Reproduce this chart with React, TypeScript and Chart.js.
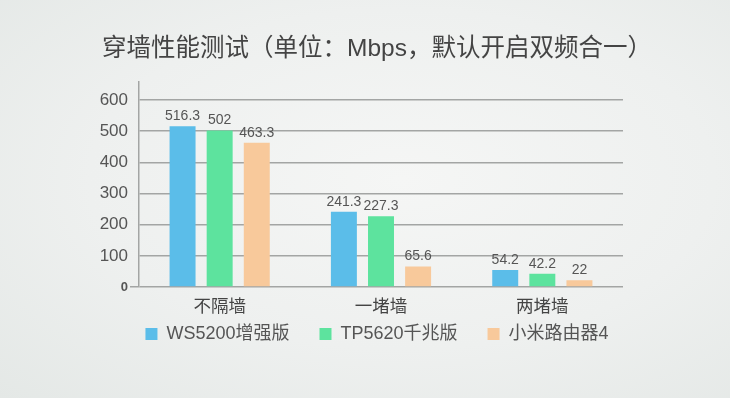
import React, { useEffect, useRef } from "react";
import { Chart, registerables } from "chart.js";

Chart.register(...registerables);

const categories = ["不隔墙", "一堵墙", "两堵墙"];
const seriesNames = ["WS5200增强版", "TP5620千兆版", "小米路由器4"];
const ws5200 = [516.3, 241.3, 54.2];
const tp5620 = [502, 227.3, 42.2];
const xiaomi4 = [463.3, 65.6, 22];
const seriesColors = ["#5bbde9", "#5de39e", "#f8c99b"];
const yMaxTick = 600;

const FONT = "'Liberation Sans', 'Noto Sans CJK SC', sans-serif";

const valueLabels = {
  id: "valueLabels",
  afterDatasetsDraw(chart: any) {
    const ctx = chart.ctx;
    ctx.save();
    ctx.font = `14px ${FONT}`;
    ctx.fillStyle = "#555";
    ctx.textAlign = "center";
    ctx.textBaseline = "bottom";
    chart.data.datasets.forEach((ds: any, i: number) => {
      const meta = chart.getDatasetMeta(i);
      meta.data.forEach((bar: any, j: number) => {
        ctx.fillText(String(ds.data[j]), bar.x, bar.y - 3);
      });
    });
    ctx.restore();
  },
};

export default function App() {
  const ref = useRef<HTMLCanvasElement>(null);
  useEffect(() => {
    const gridColor = "#a3a5a4";
    const leftPad = 24;
    const chart = new Chart(ref.current!, {
      type: "bar",
      data: {
        labels: categories,
        datasets: [ws5200, tp5620, xiaomi4].map((d, i) => ({
          label: seriesNames[i],
          data: d,
          backgroundColor: seriesColors[i],
          borderWidth: 0,
          categoryPercentage: 0.69,
          barPercentage: 0.7,
        })),
      },
      options: {
        animation: false,
        responsive: false,
        layout: { padding: { left: leftPad, right: 0, top: 0, bottom: 45 } },
        plugins: {
          title: {
            display: true,
            text: "穿墙性能测试（单位：Mbps，默认开启双频合一）",
            color: "#444",
            font: { family: FONT, size: 24.5, weight: "normal" },
            padding: { top: 35, bottom: 17 },
          },
          legend: {
            position: "bottom",
            labels: {
              boxWidth: 12,
              boxHeight: 12,
              padding: 30,
              color: "#555",
              font: { family: FONT, size: 18 },
            },
          },
          tooltip: { enabled: false },
        },
        scales: {
          x: {
            grid: { display: false },
            border: { display: false },
            afterFit: (scale: any) => {
              scale.height = 8;
              scale._computeLabelArea = () => undefined;
            },
            ticks: {
              color: "#444",
              font: { family: FONT, size: 17.5 },
              padding: 2,
            },
          },
          y: {
            min: 0,
            max: 660,
            afterBuildTicks: (scale: any) => {
              scale.ticks = scale.ticks.filter((t: any) => t.value <= yMaxTick && t.value % 100 === 0);
            },
            afterFit: (scale: any) => {
              scale.width = 139 - leftPad;
            },
            ticks: {
              stepSize: 100,
              includeBounds: false,
              color: "#555",
              font: (c: any) =>
                c.tick && c.tick.value === 0
                  ? { family: FONT, size: 13, weight: "bold" }
                  : { family: FONT, size: 17 },
              padding: 2,
            },
            grid: {
              color: gridColor,
              lineWidth: 1.5,
              tickLength: 9,
              tickColor: (c: any) => (c.tick && c.tick.value === 0 ? gridColor : "transparent"),
            },
            border: { display: true, color: gridColor, width: 1.5 },
          },
          yRight: {
            position: "right",
            display: true,
            grid: { display: false, drawTicks: false },
            border: { display: false },
            ticks: { display: false },
            afterFit: (scale: any) => {
              scale.width = 107;
            },
          },
        },
      },
      plugins: [valueLabels],
    });
    return () => chart.destroy();
  }, []);
  return (
    <div
      style={{
        position: "fixed",
        left: 0,
        top: 0,
        width: 730,
        height: 398,
        background: "radial-gradient(ellipse at 55% 45%, #f5f6f5 0%, #eef0ef 55%, #e4e8e6 100%)",
      }}
    >
      <canvas ref={ref} width={730} height={398} style={{ display: "block" }} />
    </div>
  );
}
